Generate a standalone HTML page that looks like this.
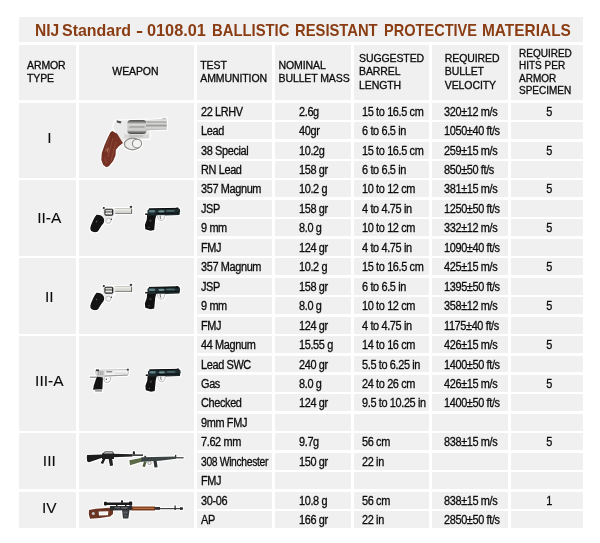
<!DOCTYPE html>
<html><head><meta charset="utf-8"><title>NIJ Standard 0108.01</title>
<style>
html,body{margin:0;padding:0;background:#fff;}
body{width:600px;height:543px;position:relative;overflow:hidden;font-family:"Liberation Sans",Arial,sans-serif;color:#0c0c0c;}
.d,.h,.h7{-webkit-text-stroke:0.3px #0c0c0c;}
.ar{-webkit-text-stroke:0.1px #0c0c0c;}
.c{position:absolute;background:#f0f0f0;}
.d,.h,.h7,.ar,.title{position:absolute;white-space:nowrap;}
.d{font-size:12px;line-height:14px;letter-spacing:-0.4px;transform-origin:0 0;transform:scaleX(0.91);}
.d.ctr{transform-origin:50% 0;}
.h{font-size:10.5px;line-height:13.6px;letter-spacing:-0.1px;}
.h7{font-size:10px;line-height:12.4px;}
.ar{font-size:15.5px;line-height:18px;text-align:center;}
.title{top:21px;font-weight:bold;font-size:17px;line-height:20px;color:#8a3c12;transform-origin:0 0;}
svg{position:absolute;left:0;top:0;}
</style></head><body>
<div class="c" style="left:19.00px;top:17.00px;width:564.40px;height:25.40px"></div><div class="c" style="left:19.00px;top:45.20px;width:56.50px;height:54.80px"></div><div class="c" style="left:79.00px;top:45.20px;width:115.20px;height:54.80px"></div><div class="c" style="left:196.50px;top:45.20px;width:75.80px;height:54.80px"></div><div class="c" style="left:275.00px;top:45.20px;width:76.30px;height:54.80px"></div><div class="c" style="left:353.80px;top:45.20px;width:75.70px;height:54.80px"></div><div class="c" style="left:432.20px;top:45.20px;width:76.10px;height:54.80px"></div><div class="c" style="left:511.20px;top:45.20px;width:72.20px;height:54.80px"></div><div class="c" style="left:19.00px;top:102.70px;width:56.50px;height:75.29px"></div><div class="c" style="left:79.00px;top:102.70px;width:115.20px;height:75.29px"></div><div class="c" style="left:19.00px;top:180.49px;width:56.50px;height:75.29px"></div><div class="c" style="left:79.00px;top:180.49px;width:115.20px;height:75.29px"></div><div class="c" style="left:19.00px;top:258.28px;width:56.50px;height:75.29px"></div><div class="c" style="left:79.00px;top:258.28px;width:115.20px;height:75.29px"></div><div class="c" style="left:19.00px;top:336.08px;width:56.50px;height:94.74px"></div><div class="c" style="left:79.00px;top:336.08px;width:115.20px;height:94.74px"></div><div class="c" style="left:19.00px;top:433.32px;width:56.50px;height:55.85px"></div><div class="c" style="left:79.00px;top:433.32px;width:115.20px;height:55.85px"></div><div class="c" style="left:19.00px;top:491.66px;width:56.50px;height:36.40px"></div><div class="c" style="left:79.00px;top:491.66px;width:115.20px;height:36.40px"></div><div class="c" style="left:196.50px;top:102.70px;width:75.80px;height:16.95px"></div><div class="c" style="left:275.00px;top:102.70px;width:76.30px;height:16.95px"></div><div class="c" style="left:353.80px;top:102.70px;width:75.70px;height:16.95px"></div><div class="c" style="left:432.20px;top:102.70px;width:76.10px;height:16.95px"></div><div class="c" style="left:511.20px;top:102.70px;width:72.20px;height:16.95px"></div><div class="c" style="left:196.50px;top:122.15px;width:75.80px;height:16.95px"></div><div class="c" style="left:275.00px;top:122.15px;width:76.30px;height:16.95px"></div><div class="c" style="left:353.80px;top:122.15px;width:75.70px;height:16.95px"></div><div class="c" style="left:432.20px;top:122.15px;width:76.10px;height:16.95px"></div><div class="c" style="left:511.20px;top:122.15px;width:72.20px;height:16.95px"></div><div class="c" style="left:196.50px;top:141.60px;width:75.80px;height:16.95px"></div><div class="c" style="left:275.00px;top:141.60px;width:76.30px;height:16.95px"></div><div class="c" style="left:353.80px;top:141.60px;width:75.70px;height:16.95px"></div><div class="c" style="left:432.20px;top:141.60px;width:76.10px;height:16.95px"></div><div class="c" style="left:511.20px;top:141.60px;width:72.20px;height:16.95px"></div><div class="c" style="left:196.50px;top:161.04px;width:75.80px;height:16.95px"></div><div class="c" style="left:275.00px;top:161.04px;width:76.30px;height:16.95px"></div><div class="c" style="left:353.80px;top:161.04px;width:75.70px;height:16.95px"></div><div class="c" style="left:432.20px;top:161.04px;width:76.10px;height:16.95px"></div><div class="c" style="left:511.20px;top:161.04px;width:72.20px;height:16.95px"></div><div class="c" style="left:196.50px;top:180.49px;width:75.80px;height:16.95px"></div><div class="c" style="left:275.00px;top:180.49px;width:76.30px;height:16.95px"></div><div class="c" style="left:353.80px;top:180.49px;width:75.70px;height:16.95px"></div><div class="c" style="left:432.20px;top:180.49px;width:76.10px;height:16.95px"></div><div class="c" style="left:511.20px;top:180.49px;width:72.20px;height:16.95px"></div><div class="c" style="left:196.50px;top:199.94px;width:75.80px;height:16.95px"></div><div class="c" style="left:275.00px;top:199.94px;width:76.30px;height:16.95px"></div><div class="c" style="left:353.80px;top:199.94px;width:75.70px;height:16.95px"></div><div class="c" style="left:432.20px;top:199.94px;width:76.10px;height:16.95px"></div><div class="c" style="left:511.20px;top:199.94px;width:72.20px;height:16.95px"></div><div class="c" style="left:196.50px;top:219.39px;width:75.80px;height:16.95px"></div><div class="c" style="left:275.00px;top:219.39px;width:76.30px;height:16.95px"></div><div class="c" style="left:353.80px;top:219.39px;width:75.70px;height:16.95px"></div><div class="c" style="left:432.20px;top:219.39px;width:76.10px;height:16.95px"></div><div class="c" style="left:511.20px;top:219.39px;width:72.20px;height:16.95px"></div><div class="c" style="left:196.50px;top:238.84px;width:75.80px;height:16.95px"></div><div class="c" style="left:275.00px;top:238.84px;width:76.30px;height:16.95px"></div><div class="c" style="left:353.80px;top:238.84px;width:75.70px;height:16.95px"></div><div class="c" style="left:432.20px;top:238.84px;width:76.10px;height:16.95px"></div><div class="c" style="left:511.20px;top:238.84px;width:72.20px;height:16.95px"></div><div class="c" style="left:196.50px;top:258.28px;width:75.80px;height:16.95px"></div><div class="c" style="left:275.00px;top:258.28px;width:76.30px;height:16.95px"></div><div class="c" style="left:353.80px;top:258.28px;width:75.70px;height:16.95px"></div><div class="c" style="left:432.20px;top:258.28px;width:76.10px;height:16.95px"></div><div class="c" style="left:511.20px;top:258.28px;width:72.20px;height:16.95px"></div><div class="c" style="left:196.50px;top:277.73px;width:75.80px;height:16.95px"></div><div class="c" style="left:275.00px;top:277.73px;width:76.30px;height:16.95px"></div><div class="c" style="left:353.80px;top:277.73px;width:75.70px;height:16.95px"></div><div class="c" style="left:432.20px;top:277.73px;width:76.10px;height:16.95px"></div><div class="c" style="left:511.20px;top:277.73px;width:72.20px;height:16.95px"></div><div class="c" style="left:196.50px;top:297.18px;width:75.80px;height:16.95px"></div><div class="c" style="left:275.00px;top:297.18px;width:76.30px;height:16.95px"></div><div class="c" style="left:353.80px;top:297.18px;width:75.70px;height:16.95px"></div><div class="c" style="left:432.20px;top:297.18px;width:76.10px;height:16.95px"></div><div class="c" style="left:511.20px;top:297.18px;width:72.20px;height:16.95px"></div><div class="c" style="left:196.50px;top:316.63px;width:75.80px;height:16.95px"></div><div class="c" style="left:275.00px;top:316.63px;width:76.30px;height:16.95px"></div><div class="c" style="left:353.80px;top:316.63px;width:75.70px;height:16.95px"></div><div class="c" style="left:432.20px;top:316.63px;width:76.10px;height:16.95px"></div><div class="c" style="left:511.20px;top:316.63px;width:72.20px;height:16.95px"></div><div class="c" style="left:196.50px;top:336.08px;width:75.80px;height:16.95px"></div><div class="c" style="left:275.00px;top:336.08px;width:76.30px;height:16.95px"></div><div class="c" style="left:353.80px;top:336.08px;width:75.70px;height:16.95px"></div><div class="c" style="left:432.20px;top:336.08px;width:76.10px;height:16.95px"></div><div class="c" style="left:511.20px;top:336.08px;width:72.20px;height:16.95px"></div><div class="c" style="left:196.50px;top:355.52px;width:75.80px;height:16.95px"></div><div class="c" style="left:275.00px;top:355.52px;width:76.30px;height:16.95px"></div><div class="c" style="left:353.80px;top:355.52px;width:75.70px;height:16.95px"></div><div class="c" style="left:432.20px;top:355.52px;width:76.10px;height:16.95px"></div><div class="c" style="left:511.20px;top:355.52px;width:72.20px;height:16.95px"></div><div class="c" style="left:196.50px;top:374.97px;width:75.80px;height:16.95px"></div><div class="c" style="left:275.00px;top:374.97px;width:76.30px;height:16.95px"></div><div class="c" style="left:353.80px;top:374.97px;width:75.70px;height:16.95px"></div><div class="c" style="left:432.20px;top:374.97px;width:76.10px;height:16.95px"></div><div class="c" style="left:511.20px;top:374.97px;width:72.20px;height:16.95px"></div><div class="c" style="left:196.50px;top:394.42px;width:75.80px;height:16.95px"></div><div class="c" style="left:275.00px;top:394.42px;width:76.30px;height:16.95px"></div><div class="c" style="left:353.80px;top:394.42px;width:75.70px;height:16.95px"></div><div class="c" style="left:432.20px;top:394.42px;width:76.10px;height:16.95px"></div><div class="c" style="left:511.20px;top:394.42px;width:72.20px;height:16.95px"></div><div class="c" style="left:196.50px;top:413.87px;width:75.80px;height:16.95px"></div><div class="c" style="left:275.00px;top:413.87px;width:76.30px;height:16.95px"></div><div class="c" style="left:353.80px;top:413.87px;width:75.70px;height:16.95px"></div><div class="c" style="left:432.20px;top:413.87px;width:76.10px;height:16.95px"></div><div class="c" style="left:511.20px;top:413.87px;width:72.20px;height:16.95px"></div><div class="c" style="left:196.50px;top:433.32px;width:75.80px;height:16.95px"></div><div class="c" style="left:275.00px;top:433.32px;width:76.30px;height:16.95px"></div><div class="c" style="left:353.80px;top:433.32px;width:75.70px;height:16.95px"></div><div class="c" style="left:432.20px;top:433.32px;width:76.10px;height:16.95px"></div><div class="c" style="left:511.20px;top:433.32px;width:72.20px;height:16.95px"></div><div class="c" style="left:196.50px;top:452.76px;width:75.80px;height:16.95px"></div><div class="c" style="left:275.00px;top:452.76px;width:76.30px;height:16.95px"></div><div class="c" style="left:353.80px;top:452.76px;width:75.70px;height:16.95px"></div><div class="c" style="left:432.20px;top:452.76px;width:76.10px;height:16.95px"></div><div class="c" style="left:511.20px;top:452.76px;width:72.20px;height:16.95px"></div><div class="c" style="left:196.50px;top:472.21px;width:75.80px;height:16.95px"></div><div class="c" style="left:275.00px;top:472.21px;width:76.30px;height:16.95px"></div><div class="c" style="left:353.80px;top:472.21px;width:75.70px;height:16.95px"></div><div class="c" style="left:432.20px;top:472.21px;width:76.10px;height:16.95px"></div><div class="c" style="left:511.20px;top:472.21px;width:72.20px;height:16.95px"></div><div class="c" style="left:196.50px;top:491.66px;width:75.80px;height:16.95px"></div><div class="c" style="left:275.00px;top:491.66px;width:76.30px;height:16.95px"></div><div class="c" style="left:353.80px;top:491.66px;width:75.70px;height:16.95px"></div><div class="c" style="left:432.20px;top:491.66px;width:76.10px;height:16.95px"></div><div class="c" style="left:511.20px;top:491.66px;width:72.20px;height:16.95px"></div><div class="c" style="left:196.50px;top:511.11px;width:75.80px;height:16.95px"></div><div class="c" style="left:275.00px;top:511.11px;width:76.30px;height:16.95px"></div><div class="c" style="left:353.80px;top:511.11px;width:75.70px;height:16.95px"></div><div class="c" style="left:432.20px;top:511.11px;width:76.10px;height:16.95px"></div><div class="c" style="left:511.20px;top:511.11px;width:72.20px;height:16.95px"></div>
<div class="title" style="left:34.58px;transform:scaleX(0.917)">NIJ</div><div class="title" style="left:62.36px;transform:scaleX(0.938)">Standard</div><div class="title" style="left:135.75px;transform:scaleX(1.25)">-</div><div class="title" style="left:147.34px;transform:scaleX(0.958)">0108.01</div><div class="title" style="left:212.43px;transform:scaleX(0.872)">BALLISTIC</div><div class="title" style="left:295.43px;transform:scaleX(0.869)">RESISTANT</div><div class="title" style="left:383.84px;transform:scaleX(0.856)">PROTECTIVE</div><div class="title" style="left:481.59px;transform:scaleX(0.908)">MATERIALS</div><div class="h" style="left:27.00px;top:58.50px">ARMOR<br>TYPE</div><div class="h" style="left:77.80px;width:115.20px;text-align:center;top:65.30px">WEAPON</div><div class="h" style="left:200.30px;top:58.50px">TEST<br>AMMUNITION</div><div class="h" style="left:278.50px;top:58.50px">NOMINAL<br>BULLET MASS</div><div class="h" style="left:359.00px;top:51.50px">SUGGESTED<br>BARREL<br>LENGTH</div><div class="h" style="left:444.80px;top:51.50px">REQUIRED<br>BULLET<br>VELOCITY</div><div class="h7" style="left:519.00px;top:48.00px">REQUIRED<br>HITS PER<br>ARMOR<br>SPECIMEN</div><div class="ar" style="left:19.30px;width:60px;top:129.28px">I</div><div class="ar" style="left:19.30px;width:60px;top:209.08px">II-A</div><div class="ar" style="left:19.30px;width:60px;top:288.08px">II</div><div class="ar" style="left:19.30px;width:60px;top:372.08px">III-A</div><div class="ar" style="left:19.30px;width:60px;top:452.18px">III</div><div class="ar" style="left:19.30px;width:60px;top:498.88px">IV</div><div class="d" style="left:200.80px;top:104.70px">22 LRHV</div><div class="d" style="left:299.30px;top:104.70px">2.6g</div><div class="d" style="left:362.30px;top:104.70px">15 to 16.5 cm</div><div class="d" style="left:444.00px;top:104.70px">320±12 m/s</div><div class="d ctr" style="left:513.00px;width:72.20px;text-align:center;top:104.70px">5</div><div class="d" style="left:200.80px;top:124.15px">Lead</div><div class="d" style="left:299.30px;top:124.15px">40gr</div><div class="d" style="left:362.30px;top:124.15px">6 to 6.5 in</div><div class="d" style="left:444.00px;top:124.15px">1050±40 ft/s</div><div class="d" style="left:200.80px;top:143.60px">38 Special</div><div class="d" style="left:299.30px;top:143.60px">10.2g</div><div class="d" style="left:362.30px;top:143.60px">15 to 16.5 cm</div><div class="d" style="left:444.00px;top:143.60px">259±15 m/s</div><div class="d ctr" style="left:513.00px;width:72.20px;text-align:center;top:143.60px">5</div><div class="d" style="left:200.80px;top:163.04px">RN Lead</div><div class="d" style="left:299.30px;top:163.04px">158 gr</div><div class="d" style="left:362.30px;top:163.04px">6 to 6.5 in</div><div class="d" style="left:444.00px;top:163.04px">850±50 ft/s</div><div class="d" style="left:200.80px;top:182.49px">357 Magnum</div><div class="d" style="left:299.30px;top:182.49px">10.2 g</div><div class="d" style="left:362.30px;top:182.49px">10 to 12 cm</div><div class="d" style="left:444.00px;top:182.49px">381±15 m/s</div><div class="d ctr" style="left:513.00px;width:72.20px;text-align:center;top:182.49px">5</div><div class="d" style="left:200.80px;top:201.94px">JSP</div><div class="d" style="left:299.30px;top:201.94px">158 gr</div><div class="d" style="left:362.30px;top:201.94px">4 to 4.75 in</div><div class="d" style="left:444.00px;top:201.94px">1250±50 ft/s</div><div class="d" style="left:200.80px;top:221.39px">9 mm</div><div class="d" style="left:299.30px;top:221.39px">8.0 g</div><div class="d" style="left:362.30px;top:221.39px">10 to 12 cm</div><div class="d" style="left:444.00px;top:221.39px">332±12 m/s</div><div class="d ctr" style="left:513.00px;width:72.20px;text-align:center;top:221.39px">5</div><div class="d" style="left:200.80px;top:240.84px">FMJ</div><div class="d" style="left:299.30px;top:240.84px">124 gr</div><div class="d" style="left:362.30px;top:240.84px">4 to 4.75 in</div><div class="d" style="left:444.00px;top:240.84px">1090±40 ft/s</div><div class="d" style="left:200.80px;top:260.28px">357 Magnum</div><div class="d" style="left:299.30px;top:260.28px">10.2 g</div><div class="d" style="left:362.30px;top:260.28px">15 to 16.5 cm</div><div class="d" style="left:444.00px;top:260.28px">425±15 m/s</div><div class="d ctr" style="left:513.00px;width:72.20px;text-align:center;top:260.28px">5</div><div class="d" style="left:200.80px;top:279.73px">JSP</div><div class="d" style="left:299.30px;top:279.73px">158 gr</div><div class="d" style="left:362.30px;top:279.73px">6 to 6.5 in</div><div class="d" style="left:444.00px;top:279.73px">1395±50 ft/s</div><div class="d" style="left:200.80px;top:299.18px">9 mm</div><div class="d" style="left:299.30px;top:299.18px">8.0 g</div><div class="d" style="left:362.30px;top:299.18px">10 to 12 cm</div><div class="d" style="left:444.00px;top:299.18px">358±12 m/s</div><div class="d ctr" style="left:513.00px;width:72.20px;text-align:center;top:299.18px">5</div><div class="d" style="left:200.80px;top:318.63px">FMJ</div><div class="d" style="left:299.30px;top:318.63px">124 gr</div><div class="d" style="left:362.30px;top:318.63px">4 to 4.75 in</div><div class="d" style="left:444.00px;top:318.63px">1175±40 ft/s</div><div class="d" style="left:200.80px;top:338.08px">44 Magnum</div><div class="d" style="left:299.30px;top:338.08px">15.55 g</div><div class="d" style="left:362.30px;top:338.08px">14 to 16 cm</div><div class="d" style="left:444.00px;top:338.08px">426±15 m/s</div><div class="d ctr" style="left:513.00px;width:72.20px;text-align:center;top:338.08px">5</div><div class="d" style="left:200.80px;top:357.52px">Lead SWC</div><div class="d" style="left:299.30px;top:357.52px">240 gr</div><div class="d" style="left:362.30px;top:357.52px">5.5 to 6.25 in</div><div class="d" style="left:444.00px;top:357.52px">1400±50 ft/s</div><div class="d" style="left:200.80px;top:376.97px">Gas</div><div class="d" style="left:299.30px;top:376.97px">8.0 g</div><div class="d" style="left:362.30px;top:376.97px">24 to 26 cm</div><div class="d" style="left:444.00px;top:376.97px">426±15 m/s</div><div class="d ctr" style="left:513.00px;width:72.20px;text-align:center;top:376.97px">5</div><div class="d" style="left:200.80px;top:396.42px">Checked</div><div class="d" style="left:299.30px;top:396.42px">124 gr</div><div class="d" style="left:362.30px;top:396.42px">9.5 to 10.25 in</div><div class="d" style="left:444.00px;top:396.42px">1400±50 ft/s</div><div class="d" style="left:200.80px;top:415.87px">9mm FMJ</div><div class="d" style="left:200.80px;top:435.32px">7.62 mm</div><div class="d" style="left:299.30px;top:435.32px">9.7g</div><div class="d" style="left:362.30px;top:435.32px">56 cm</div><div class="d" style="left:444.00px;top:435.32px">838±15 m/s</div><div class="d ctr" style="left:513.00px;width:72.20px;text-align:center;top:435.32px">5</div><div class="d" style="left:200.80px;top:454.76px;transform:scaleX(0.862)">308 Winchester</div><div class="d" style="left:299.30px;top:454.76px">150 gr</div><div class="d" style="left:362.30px;top:454.76px">22 in</div><div class="d" style="left:200.80px;top:474.21px">FMJ</div><div class="d" style="left:200.80px;top:493.66px">30-06</div><div class="d" style="left:299.30px;top:493.66px">10.8 g</div><div class="d" style="left:362.30px;top:493.66px">56 cm</div><div class="d" style="left:444.00px;top:493.66px">838±15 m/s</div><div class="d ctr" style="left:513.00px;width:72.20px;text-align:center;top:493.66px">1</div><div class="d" style="left:200.80px;top:513.11px">AP</div><div class="d" style="left:299.30px;top:513.11px">166 gr</div><div class="d" style="left:362.30px;top:513.11px">22 in</div><div class="d" style="left:444.00px;top:513.11px">2850±50 ft/s</div>
<svg width="600" height="543" viewBox="0 0 600 543">
<defs>
<linearGradient id="cyl" x1="0" y1="0" x2="0" y2="1">
<stop offset="0" stop-color="#4e4e4e"/><stop offset="0.14" stop-color="#7a7a7a"/><stop offset="0.3" stop-color="#d8d8d6"/><stop offset="0.5" stop-color="#c6c6c4"/><stop offset="0.72" stop-color="#d2d2d0"/><stop offset="0.86" stop-color="#7a7a7a"/><stop offset="1" stop-color="#444"/></linearGradient>
<linearGradient id="brl" x1="0" y1="0" x2="0" y2="1">
<stop offset="0" stop-color="#bdbdbb"/><stop offset="0.25" stop-color="#e6e6e4"/><stop offset="0.5" stop-color="#d0d0ce"/><stop offset="0.62" stop-color="#9c9c9a"/><stop offset="0.8" stop-color="#dadad8"/><stop offset="1" stop-color="#b0b0ae"/></linearGradient>
<linearGradient id="wood" x1="0" y1="0" x2="1" y2="1">
<stop offset="0" stop-color="#5e241a"/><stop offset="0.5" stop-color="#7a3426"/><stop offset="1" stop-color="#6a2a1e"/></linearGradient>
<filter id="halo" x="-10%" y="-20%" width="120%" height="140%" color-interpolation-filters="sRGB">
<feMorphology in="SourceAlpha" operator="dilate" radius="0.9" result="d"/>
<feFlood flood-color="#ffffff"/>
<feComposite in2="d" operator="in" result="w"/>
<feGaussianBlur in="SourceGraphic" stdDeviation="0.25" result="s"/>
<feMerge><feMergeNode in="w"/><feMergeNode in="s"/></feMerge>
</filter></defs>

<g filter="url(#halo)">
 <path d="M114.5,122.5 Q116,120.2 120,120.4 L146,119.6 L150,133 L149.5,138.6 L141,139.2 L126,139.6 L121.5,142 L117,134.5 L113.2,127.5 Z" fill="#eaeaea"/>
 <path d="M112.2,130.9 L117.2,133.8 L121.3,140.5 L123,143 L118.8,146.3 L115.9,149.7 L115.5,155.5 L113,161.3 L108.8,166.3 L106.3,167.2 L103,164.7 L101.3,159.7 L101.8,153 L104.7,144.7 L108,137.2 L110.5,132.2 Z" fill="url(#wood)"/>
 <path d="M110,136 Q107,145 105,152 M113,138 Q110,148 108,157 M116,142 Q113,152 111,161 M104.5,158 L107,163" stroke="#8e4c3b" stroke-width="0.9" fill="none"/>
 <path d="M106,150 L109,147 L108,153 Z" fill="#a86a55"/>
 <polygon points="116.5,120.3 121.5,121.6 120.5,123.4 117,122.5" fill="#4a4a4a"/>
 <rect x="127.3" y="119.9" width="19.2" height="14.2" rx="3.5" fill="url(#cyl)"/>
 <rect x="129.5" y="126.5" width="15" height="0.9" fill="#8a8a88"/>
 <path d="M146,120 L162,119 L162.5,117.8 L166,117.8 L166.8,119.5 L166.8,129.8 L146,130.2 Z" fill="url(#brl)"/>
 <rect x="146.3" y="121.6" width="20.3" height="0.8" fill="#767676"/>
 <rect x="124" y="134.3" width="25" height="4" fill="#d6d6d4"/>
 <rect x="129" y="135.6" width="14" height="0.8" fill="#a8a8a6"/>
 <ellipse cx="132.6" cy="144" rx="8.2" ry="5.8" fill="#ececea" stroke="#8c8c8a" stroke-width="1.2"/>
 <ellipse cx="137" cy="143.6" rx="4.6" ry="4.4" fill="#f2f2f0" stroke="#8e8e8c" stroke-width="1.1"/>
</g>

<g filter="url(#halo)" transform="translate(0,0)">
 <polygon points="102,208.3 115.2,208.3 115.2,214 113,217 111,219.8 105,220.5 102.6,214.5" fill="#eaeaea"/>
 <path d="M96.5,214.8 C99.5,214.6 102.6,215.6 103.7,218.2 C104.6,220.6 104.2,222.6 102.4,224.6 C100.8,226.5 99.6,229 98.2,231 C96.6,232.7 92.8,232.5 91.1,230.8 C89.8,229.3 90.4,226.4 91.4,224.3 C92.7,221.3 94,217.6 96.5,214.8 Z" fill="#141414"/>
 <circle cx="96.6" cy="221.5" r="0.7" fill="#666"/>
 <rect x="102.9" y="207" width="1.8" height="1.9" fill="#333"/>
 <rect x="104.4" y="208.8" width="8.9" height="6.9" rx="1.6" fill="#1c1c1c"/>
 <rect x="105.4" y="209.7" width="6.7" height="1.9" fill="#d4d4d0"/>
 <rect x="105.4" y="212.4" width="6.7" height="2.1" fill="#ebebe8"/>
 <rect x="115.2" y="208.3" width="16.9" height="5.5" fill="#ecece6"/>
 <rect x="115.2" y="208.3" width="16.9" height="0.7" fill="#b8b8b2"/>
 <rect x="115.2" y="210.6" width="16" height="1.1" fill="#d0d0ca"/>
 <rect x="115.2" y="212.8" width="16.9" height="1" fill="#727270"/>
 <rect x="131.2" y="209" width="0.9" height="4.5" fill="#555"/>
 <rect x="129.8" y="205.9" width="2.3" height="1.9" fill="#333"/>
 <circle cx="108.4" cy="220.8" r="2.6" fill="#f4f4f4" stroke="#b4b4b4" stroke-width="0.9"/>
 <circle cx="111.5" cy="219.3" r="0.7" fill="#333"/>
</g>

<g filter="url(#halo)" transform="translate(0,0)">
 <path d="M147.1,215 L156.3,215 L155.2,219.5 L154.2,230 L150.5,230.8 L145.3,229.3 L144.9,224.8 L146.8,219.5 Z" fill="#111"/>
 <circle cx="150.4" cy="220.6" r="1.2" fill="#3c3c3c"/>
 <circle cx="149" cy="227.3" r="0.6" fill="#6a6a6a"/>
 <polygon points="147.3,210.6 149.5,208.8 178,208.2 179.8,209 180.1,211.3 179.4,215 165,215.4 156,215.6 148,215.5" fill="#1d2a2d"/>
 <path d="M148.8,208.9 L178.2,208.3" stroke="#060606" stroke-width="1"/>
 <ellipse cx="152" cy="211.3" rx="3.4" ry="1.3" fill="#5f8183"/>
 <ellipse cx="161.5" cy="211.4" rx="3.2" ry="1.1" fill="#6f9193"/>
 <ellipse cx="170.5" cy="210.9" rx="4.5" ry="0.9" fill="#48696c"/>
 <path d="M156,213.6 L179.5,213" stroke="#0a0a0a" stroke-width="0.8"/>
 <rect x="176.3" y="207.6" width="2" height="1.4" fill="#111"/>
 <rect x="145.2" y="213.4" width="2.8" height="1.6" fill="#1a1a1a"/>
 <path d="M157.6,215.2 Q157.4,220.8 161.2,220.8 Q164.6,220.8 164.8,215.3" fill="#f6f6f6" stroke="#bdbdbd" stroke-width="1"/>
 <path d="M160.3,215.6 Q159.8,217.6 161,219.2" stroke="#333" stroke-width="0.7" fill="none"/>
</g>

<g filter="url(#halo)" transform="translate(0,78)">
 <polygon points="102,208.3 115.2,208.3 115.2,214 113,217 111,219.8 105,220.5 102.6,214.5" fill="#eaeaea"/>
 <path d="M96.5,214.8 C99.5,214.6 102.6,215.6 103.7,218.2 C104.6,220.6 104.2,222.6 102.4,224.6 C100.8,226.5 99.6,229 98.2,231 C96.6,232.7 92.8,232.5 91.1,230.8 C89.8,229.3 90.4,226.4 91.4,224.3 C92.7,221.3 94,217.6 96.5,214.8 Z" fill="#141414"/>
 <circle cx="96.6" cy="221.5" r="0.7" fill="#666"/>
 <rect x="102.9" y="207" width="1.8" height="1.9" fill="#333"/>
 <rect x="104.4" y="208.8" width="8.9" height="6.9" rx="1.6" fill="#1c1c1c"/>
 <rect x="105.4" y="209.7" width="6.7" height="1.9" fill="#d4d4d0"/>
 <rect x="105.4" y="212.4" width="6.7" height="2.1" fill="#ebebe8"/>
 <rect x="115.2" y="208.3" width="16.9" height="5.5" fill="#ecece6"/>
 <rect x="115.2" y="208.3" width="16.9" height="0.7" fill="#b8b8b2"/>
 <rect x="115.2" y="210.6" width="16" height="1.1" fill="#d0d0ca"/>
 <rect x="115.2" y="212.8" width="16.9" height="1" fill="#727270"/>
 <rect x="131.2" y="209" width="0.9" height="4.5" fill="#555"/>
 <rect x="129.8" y="205.9" width="2.3" height="1.9" fill="#333"/>
 <circle cx="108.4" cy="220.8" r="2.6" fill="#f4f4f4" stroke="#b4b4b4" stroke-width="0.9"/>
 <circle cx="111.5" cy="219.3" r="0.7" fill="#333"/>
</g>

<g filter="url(#halo)" transform="translate(0,78.5)">
 <path d="M147.1,215 L156.3,215 L155.2,219.5 L154.2,230 L150.5,230.8 L145.3,229.3 L144.9,224.8 L146.8,219.5 Z" fill="#111"/>
 <circle cx="150.4" cy="220.6" r="1.2" fill="#3c3c3c"/>
 <circle cx="149" cy="227.3" r="0.6" fill="#6a6a6a"/>
 <polygon points="147.3,210.6 149.5,208.8 178,208.2 179.8,209 180.1,211.3 179.4,215 165,215.4 156,215.6 148,215.5" fill="#1d2a2d"/>
 <path d="M148.8,208.9 L178.2,208.3" stroke="#060606" stroke-width="1"/>
 <ellipse cx="152" cy="211.3" rx="3.4" ry="1.3" fill="#5f8183"/>
 <ellipse cx="161.5" cy="211.4" rx="3.2" ry="1.1" fill="#6f9193"/>
 <ellipse cx="170.5" cy="210.9" rx="4.5" ry="0.9" fill="#48696c"/>
 <path d="M156,213.6 L179.5,213" stroke="#0a0a0a" stroke-width="0.8"/>
 <rect x="176.3" y="207.6" width="2" height="1.4" fill="#111"/>
 <rect x="145.2" y="213.4" width="2.8" height="1.6" fill="#1a1a1a"/>
 <path d="M157.6,215.2 Q157.4,220.8 161.2,220.8 Q164.6,220.8 164.8,215.3" fill="#f6f6f6" stroke="#bdbdbd" stroke-width="1"/>
 <path d="M160.3,215.6 Q159.8,217.6 161,219.2" stroke="#333" stroke-width="0.7" fill="none"/>
</g>

<g filter="url(#halo)">
 <path d="M96.8,376.6 L102.9,377.4 L102.4,389.3 L93.1,389.8 L93.9,385.3 Z" fill="#141414"/>
 <rect x="95.2" y="389.5" width="6.8" height="2.2" fill="#9a9a9a"/>
 <path d="M104.2,377.2 Q103,382.5 107.5,382.4 Q111,382.2 110.7,377" fill="none" stroke="#b0b0b0" stroke-width="1"/>
 <polygon points="95.6,370.2 128,369.5 128.3,373 127.6,375.2 99,376.4 96,374.5" fill="#f2f2f2"/>
 <path d="M95.6,370.2 L128,369.5 L128.3,373 L127.6,375.2 L99,376.4 L96,374.5 Z" fill="none" stroke="#9c9c9c" stroke-width="0.6"/>
 <path d="M104.5,376 L127.6,375" stroke="#8c8c8c" stroke-width="0.8"/>
 <rect x="97" y="371" width="7.5" height="4.5" fill="#c4c4c4"/>
 <path d="M98.5,371 L98.5,375.4 M100.3,371 L100.3,375.4 M102.1,371 L102.1,375.4" stroke="#8a8a8a" stroke-width="0.5"/>
 <rect x="106.3" y="371" width="6" height="1.5" fill="#8e8e8e"/>
 <rect x="114" y="372.8" width="12" height="0.7" fill="#c8c8c8"/>
 <rect x="96" y="369.4" width="3" height="1.8" fill="#3a3a3a"/>
 <rect x="126.9" y="368.8" width="1.9" height="1.7" fill="#333"/>
 <rect x="89.8" y="376.6" width="6.5" height="1.2" fill="#8a8a8a"/>
 <circle cx="106.4" cy="379.2" r="0.8" fill="#444"/>
</g>

<g filter="url(#halo)" transform="translate(0.5,161)">
 <path d="M147.1,215 L156.3,215 L155.2,219.5 L154.2,230 L150.5,230.8 L145.3,229.3 L144.9,224.8 L146.8,219.5 Z" fill="#111"/>
 <circle cx="150.4" cy="220.6" r="1.2" fill="#3c3c3c"/>
 <circle cx="149" cy="227.3" r="0.6" fill="#6a6a6a"/>
 <polygon points="147.3,210.6 149.5,208.8 178,208.2 179.8,209 180.1,211.3 179.4,215 165,215.4 156,215.6 148,215.5" fill="#1d2a2d"/>
 <path d="M148.8,208.9 L178.2,208.3" stroke="#060606" stroke-width="1"/>
 <ellipse cx="152" cy="211.3" rx="3.4" ry="1.3" fill="#5f8183"/>
 <ellipse cx="161.5" cy="211.4" rx="3.2" ry="1.1" fill="#6f9193"/>
 <ellipse cx="170.5" cy="210.9" rx="4.5" ry="0.9" fill="#48696c"/>
 <path d="M156,213.6 L179.5,213" stroke="#0a0a0a" stroke-width="0.8"/>
 <rect x="176.3" y="207.6" width="2" height="1.4" fill="#111"/>
 <rect x="145.2" y="213.4" width="2.8" height="1.6" fill="#1a1a1a"/>
 <path d="M157.6,215.2 Q157.4,220.8 161.2,220.8 Q164.6,220.8 164.8,215.3" fill="#f6f6f6" stroke="#bdbdbd" stroke-width="1"/>
 <path d="M160.3,215.6 Q159.8,217.6 161,219.2" stroke="#333" stroke-width="0.7" fill="none"/>
</g>

<g filter="url(#halo)">
 <polygon points="87,455 102,454.4 103,455.5 103,457.6 89,462.2 87.2,461.6 86.8,458" fill="#1b1b1b"/>
 <rect x="102" y="453.4" width="12" height="5.6" fill="#202020"/>
 <path d="M102.6,454.4 L104.6,451.9 L112.8,451.9 L113.4,454" stroke="#222" stroke-width="0.9" fill="none"/>
 <polygon points="103,458.5 105.6,458.5 103.2,463.8 100.6,463.2" fill="#1b1b1b"/>
 <polygon points="108.5,458.5 112.1,458.5 113.1,465.5 110,466" fill="#232323"/>
 <polygon points="113.3,453.8 132.6,454.3 132.6,456.6 113.3,457.2" fill="#202020"/>
 <polygon points="133,451.2 134.6,451.2 135.2,454.6 132.6,454.6" fill="#222"/>
 <rect x="132.6" y="454.4" width="10.4" height="1.5" fill="#2e2e2e"/>
</g>

<g filter="url(#halo)">
 <polygon points="129.3,460.3 142.3,457.8 142.3,461.5 130,465.2" fill="#5b6a49"/>
 <polygon points="141.3,457.3 176,456.6 176,458.8 160,460.8 141.3,461.8" fill="#3b4443"/>
 <rect x="144.3" y="455.8" width="1.8" height="1.8" fill="#2e3333"/>
 <rect x="176" y="457.1" width="7.6" height="1.3" fill="#444"/>
 <rect x="175" y="454.8" width="1.3" height="2.8" fill="#333"/>
 <polygon points="144,461.4 146.6,461.4 145,467 142.4,466.5" fill="#4f5e40"/>
 <polygon points="153.4,460.8 156.6,460.8 157.6,467.3 154.5,467.5" fill="#2d3232"/>
 <circle cx="149.5" cy="463" r="1.6" fill="none" stroke="#888" stroke-width="0.8"/>
</g>

<g filter="url(#halo)">
 <path d="M89,510 L96,508.8 L110,507.8 L113,509 L113,514 L110,516.5 L100,518 L90,518.8 L88.8,514 Z M98.6,511.6 L108.4,511.2 L108,515.2 L99,515.6 Z" fill="#6a3322" fill-rule="evenodd"/>
 <circle cx="93.3" cy="513.4" r="1.5" fill="#c8c8c8"/>
 <polygon points="110,506 132.2,506 132.2,510.2 110,510.6" fill="#2c2e30"/>
 <rect x="115" y="506.8" width="5" height="1.6" fill="#5a5e61"/>
 <rect x="121.5" y="507.2" width="6" height="1.4" fill="#6a6e71"/>
 <polygon points="122,510 129.5,510 128.4,518.6 123,518.6" fill="#3a3d40"/>
 <rect x="123.5" y="511.5" width="4" height="2" fill="#5c6064"/>
 <rect x="124" y="515" width="3" height="1.6" fill="#55595c"/>
 <rect x="104" y="502.4" width="28" height="2.7" rx="1" fill="#191919"/>
 <rect x="104" y="501.8" width="3" height="3.8" rx="0.8" fill="#191919"/>
 <rect x="129" y="501.4" width="3.2" height="4.3" rx="0.8" fill="#191919"/>
 <rect x="121" y="500.4" width="2" height="2.4" fill="#222"/>
 <rect x="116" y="505" width="1.5" height="1.5" fill="#222"/>
 <rect x="125" y="505" width="1.5" height="1.5" fill="#222"/>
 <rect x="132" y="506.5" width="23" height="4" fill="#7a3a1e"/>
 <rect x="133" y="507.7" width="21" height="1.3" fill="#b36c3c"/>
 <rect x="155" y="507" width="5" height="2.8" fill="#2e2e2e"/>
 <rect x="160" y="508" width="22.5" height="1.2" fill="#444"/>
 <rect x="174.5" y="505.5" width="1.2" height="4.5" fill="#222"/>
 <rect x="180" y="507.3" width="2.8" height="2.5" fill="#222"/>
</g>
</svg>
</body></html>
